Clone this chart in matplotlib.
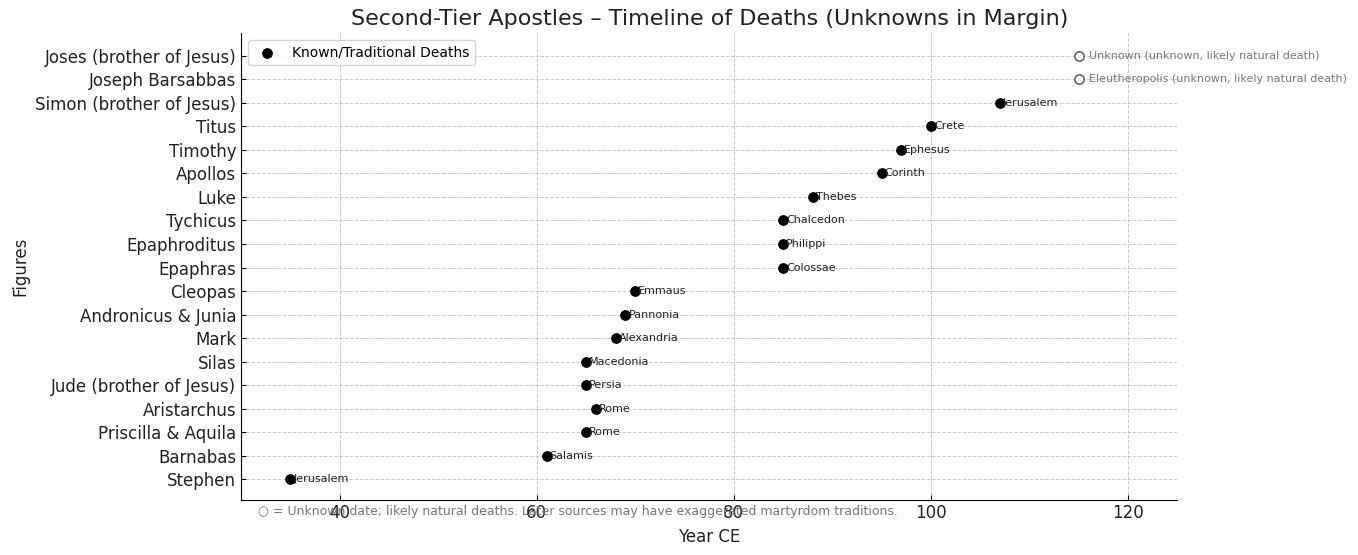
import numpy as np
import matplotlib.pyplot as plt

# known / traditional deaths (bottom to top)
names = ["Stephen", "Barnabas", "Priscilla & Aquila", "Aristarchus",
         "Jude (brother of Jesus)", "Silas", "Mark", "Andronicus & Junia",
         "Cleopas", "Epaphras", "Epaphroditus", "Tychicus", "Luke",
         "Apollos", "Timothy", "Titus", "Simon (brother of Jesus)"]
years = [35, 61, 65, 66, 65, 65, 68, 69, 70, 85, 85, 85, 88, 95, 97, 100, 107]
places = ["Jerusalem", "Salamis", "Rome", "Rome", "Persia", "Macedonia",
          "Alexandria", "Pannonia", "Emmaus", "Colossae", "Philippi",
          "Chalcedon", "Thebes", "Corinth", "Ephesus", "Crete", "Jerusalem"]

# unknowns placed in the margin
unk_names = ["Joseph Barsabbas", "Joses (brother of Jesus)"]
unk_places = ["Eleutheropolis", "Unknown"]
unk_x = 115

all_names = names + unk_names
pos = np.arange(len(all_names))

fig, ax = plt.subplots(figsize=(13.58, 5.55), dpi=100)
fig.subplots_adjust(left=0.1775, right=0.867, top=0.94, bottom=0.1)

ax.scatter(years, pos[:len(names)], s=45, color="black", zorder=3,
           label="Known/Traditional Deaths")
for x, y, p in zip(years, pos[:len(names)], places):
    ax.text(x + 0.3, y, p, fontsize=8, va="center", color="#222222")

upos = pos[len(names):]
ax.scatter([unk_x] * len(unk_names), upos, s=45, facecolors="white",
           edgecolors="#666666", linewidths=1.2, zorder=3)
for y, p in zip(upos, unk_places):
    ax.text(unk_x + 1.0, y, p + " (unknown, likely natural death)",
            fontsize=8, va="center", color="#777777")

ax.set_yticks(pos)
ax.set_yticklabels(all_names, fontsize=12, color="#222222")
ax.set_xlim(30, 125)
ax.set_ylim(-0.85, 18.95)
ax.set_xticks([40, 60, 80, 100, 120])
ax.tick_params(axis="x", labelsize=12, direction="in", labelcolor="#222222")
ax.tick_params(axis="y", direction="in")
ax.grid(True, linestyle="--", color="#bbbbbb", linewidth=0.7, alpha=0.8)
ax.spines["top"].set_visible(False)
ax.spines["right"].set_visible(False)

ax.set_xlabel("Year CE", fontsize=12, color="#222222")
ax.set_ylabel("Figures", fontsize=12, color="#222222")
ax.set_title("Second-Tier Apostles \u2013 Timeline of Deaths (Unknowns in Margin)",
             fontsize=16, color="#222222")
ax.legend(loc="upper left", fontsize=10)

fig.text(0.19, 0.079,
         "\u25cb = Unknown date; likely natural deaths. Later sources may have exaggerated martyrdom traditions.",
         fontsize=9, color="#777777", va="center")

fig.savefig("out.png")
